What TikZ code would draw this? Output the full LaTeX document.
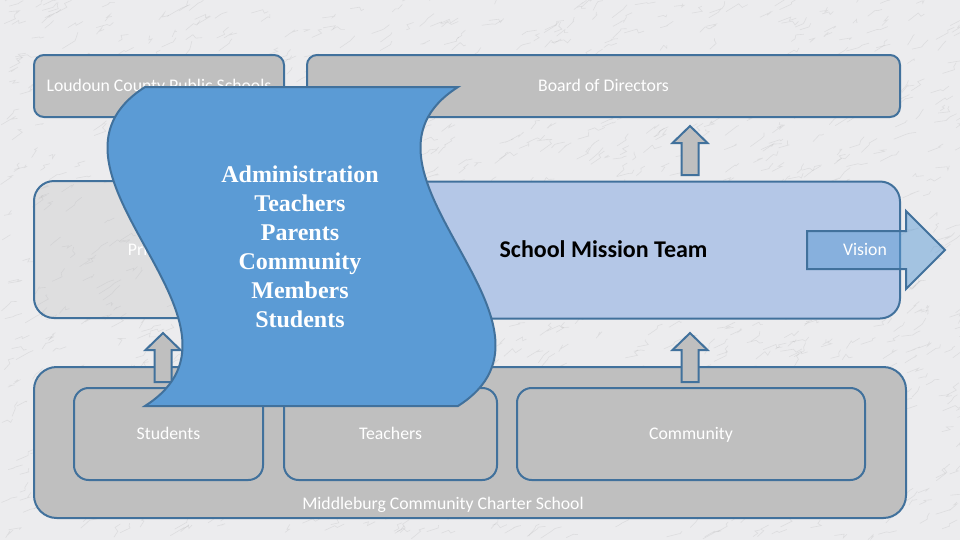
\documentclass[tikz,border=0pt]{standalone}
\usepackage{fontspec}
\setmainfont{Carlito}
\newfontfamily\serifbold{Liberation Serif}
\definecolor{boxgray}{HTML}{BFBFBF}
\definecolor{edgeblue}{HTML}{41719C}
\definecolor{accblue}{HTML}{5B9BD5}
\definecolor{paleblue}{HTML}{B4C7E7}
\definecolor{marble}{HTML}{ECECEE}
\tikzset{
  box/.style={draw=edgeblue, line width=1.5pt, fill=boxgray, text=white,
    inner sep=0pt, outer sep=0pt, text height=8.6pt, text depth=0pt,
    font=\fontsize{13.3}{15}\selectfont},
  uparrow/.style={draw=edgeblue, line width=1.5pt, fill=boxgray, line join=miter},
  lbl/.style={text=white, inner sep=0pt, text height=8.6pt, text depth=0pt,
    font=\fontsize{13.3}{15}\selectfont}
}
\begin{document}
\begin{tikzpicture}[x=0.75pt, y=-0.75pt]
  % background
  \fill[marble] (0,0) rectangle (960,540);
  \useasboundingbox (0,0) rectangle (960,540);
  \pgfmathsetseed{11}
  \foreach \i in {1,...,1400}
    \draw[gray!80, opacity=0.18, line width=0.45pt]
      (rnd*960, rnd*540) -- ++(rnd*10+3, -rnd*7-1) -- ++(rnd*8-4, rnd*8-4) -- ++(rnd*8, -rnd*5);
  % top row
  \node[box, rounded corners=7.5pt, minimum width=187.5pt, minimum height=46.5pt] (lcps) at (159,86) {Loudoun County Public Schools};
  \node[box, rounded corners=7.5pt, minimum width=444.75pt, minimum height=46.5pt] (board) at (603.5,86) {Board of Directors};
  % middle row
  \node[box, fill opacity=0.3, text opacity=1, rounded corners=15pt, minimum width=187.5pt, minimum height=102.75pt] (principal) at (159,249.5) {Principal};
  \node[box, fill=paleblue, text=black, text height=11.6pt, font=\fontsize{18}{20}\selectfont\bfseries, rounded corners=15pt, minimum width=444.75pt, minimum height=102.75pt] (mission) at (603.5,250) {School Mission Team};
  % bottom row
  \node[box, rounded corners=17pt, minimum width=654pt, minimum height=113.25pt] (charter) at (470,442.5) {};
  \node[lbl] (charterlbl) at (443,504) {Middleburg Community Charter School};
  \node[box, rounded corners=11pt, minimum width=141.75pt, minimum height=69pt] (students) at (168.5,434) {Students};
  \node[box, rounded corners=11pt, minimum width=159.75pt, minimum height=69pt] (teachers) at (390.5,434) {Teachers};
  \node[box, rounded corners=11pt, minimum width=261pt, minimum height=69pt] (community) at (691,434) {Community};
  % block arrows
  \foreach \ax/\ay in {690/126, 690/333, 163/333}
    \draw[uparrow] (\ax-8.5,\ay+49) -- (\ax-8.5,\ay+17) -- (\ax-17.5,\ay+17) -- (\ax,\ay)
      -- (\ax+17.5,\ay+17) -- (\ax+8.5,\ay+17) -- (\ax+8.5,\ay+49) -- cycle;
  % vision arrow
  \draw[draw=edgeblue, line width=1.5pt, fill=accblue, fill opacity=0.5]
    (807,231) -- (906,231) -- (906,211) -- (945,250) -- (906,289) -- (906,269) -- (807,269) -- cycle;
  \node[lbl] (vision) at (865,250) {Vision};
  % wave
  \draw[draw=edgeblue, line width=1.5pt, fill=accblue]
    (145,87) -- (458,87) .. controls (328,170) and (588,323) .. (458,406)
    -- (145,406) .. controls (275,323) and (15,170) .. (145,87) -- cycle;
  \node[text=white, align=center, inner sep=0pt, font=\serifbold\fontsize{18}{21.75}\selectfont\bfseries] (members) at (300,247)
    {Administration\\Teachers\\Parents\\Community\\Members\\Students};
\end{tikzpicture}
\end{document}
